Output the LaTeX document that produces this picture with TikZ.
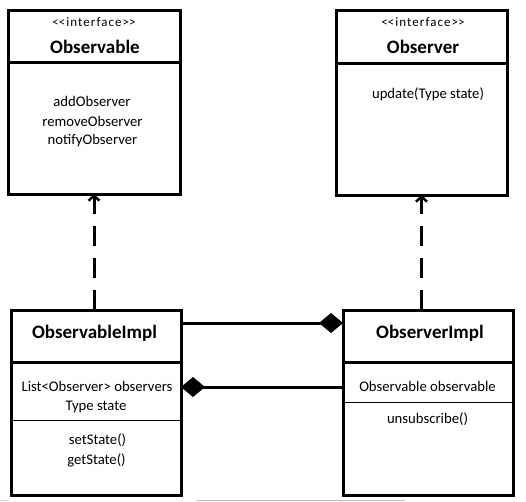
\documentclass[tikz,border=0pt]{standalone}
\usepackage{fontspec}
\setmainfont{Carlito}
\usetikzlibrary{arrows.meta}
\begin{document}
\begin{tikzpicture}[x=1pt,y=-1pt,
  box/.style={draw,line width=3pt,rectangle,inner sep=0pt,outer sep=0pt},
  thick div/.style={line width=3pt},
  thin div/.style={line width=1pt},
  stereo/.style={font=\fontsize{13}{15}\selectfont\addfontfeature{LetterSpace=8},inner sep=0pt},
  title/.style={font=\fontsize{19}{22}\selectfont\bfseries,inner sep=0pt},
  member/.style={font=\fontsize{14.7}{17}\selectfont,inner sep=0pt},
  real/.style={line width=3pt,dash pattern=on 20pt off 12pt,-{Straight Barb[length=5pt,width=11pt,line width=2.5pt]}},
  comp/.style={line width=3pt,-{Diamond[length=24pt,width=20pt,line width=0pt]}}
]
\useasboundingbox (0,0) rectangle (526,501);
% boxes
\node[box,minimum width=172pt,minimum height=184pt] (obs) at (94,102) {};
\node[box,minimum width=171pt,minimum height=185pt] (obsr) at (421.5,102.5) {};
\node[box,minimum width=170pt,minimum height=185pt] (oimpl) at (96,402.5) {};
\node[box,minimum width=170pt,minimum height=185pt] (rimpl) at (428,402.5) {};
% dividers
\draw[thick div] (obs.west |- 0,62) -- (obs.east |- 0,62);
\draw[thick div] (obsr.west |- 0,63) -- (obsr.east |- 0,63);
\draw[thick div] (oimpl.west |- 0,362) -- (oimpl.east |- 0,362);
\draw[thin div] (oimpl.west |- 0,420) -- (oimpl.east |- 0,420);
\draw[thick div] (rimpl.west |- 0,362) -- (rimpl.east |- 0,362);
\draw[thin div] (rimpl.west |- 0,402) -- (rimpl.east |- 0,402);
% Observable texts
\node[stereo] (obsst) at (94,22) {<\kern0pt<interface>\kern0pt>};
\node[title] (obst) at (95,47) {Observable};
\node[member] (m1) at (92,101) {addObserver};
\node[member] (m2) at (92.5,121) {removeObserver};
\node[member] (m3) at (92.5,141) {notifyObserver};
% Observer texts
\node[stereo] (obrst) at (423,22) {<\kern0pt<interface>\kern0pt>};
\node[title] (obrt) at (423,47) {Observer};
\node[member] (m4) at (428,94) {update(Type state)};
% ObservableImpl texts
\node[title] (oit) at (94.5,333) {ObservableImpl};
\node[member] (m5) at (97,386) {List<Observer> observers};
\node[member] (m6) at (96,407) {Type state};
\node[member] (m7) at (97.5,440) {setState()};
\node[member] (m8) at (96.5,460) {getState()};
% ObserverImpl texts
\node[title] (rit) at (430,333) {ObserverImpl};
\node[member] (m9) at (427.5,386) {Observable observable};
\node[member] (m10) at (427.5,419) {unsubscribe()};
% connectors
\draw[real] (oimpl.north -| obs.south) -- (obs.south);
\draw[real] (rimpl.north -| obsr.south) -- (obsr.south);
\draw[comp] (oimpl.east |- 0,323) -- (rimpl.west |- 0,323);
\draw[comp] (rimpl.west |- 0,387) -- (oimpl.east |- 0,387);
% faint screenshot edge
\draw[black!25,line width=1pt] (196,500) -- (405,500);
\draw[black!15,line width=1pt] (0,500) -- (8,500);
\end{tikzpicture}
\end{document}
